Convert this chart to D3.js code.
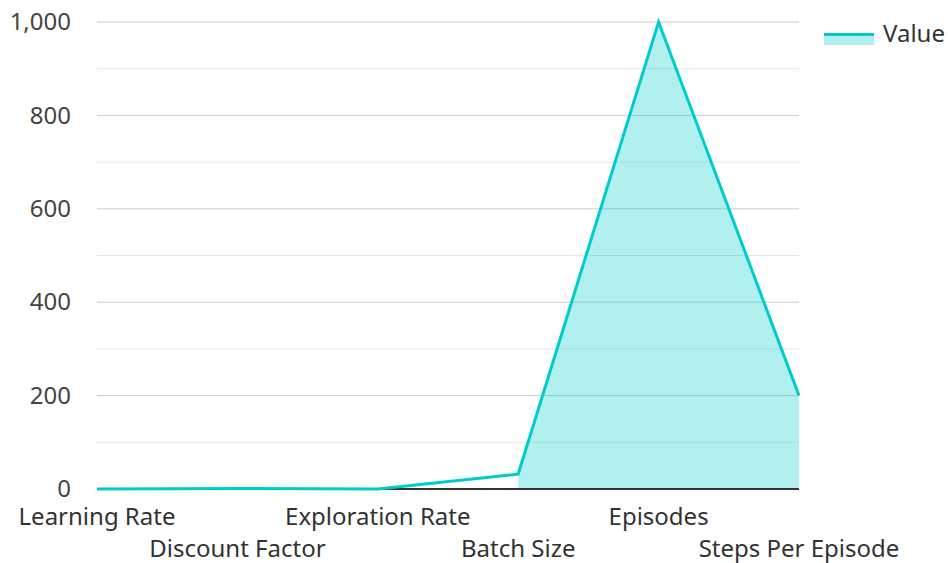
<!DOCTYPE html>
<html>
<head>
<meta charset="utf-8">
<script src="https://cdn.jsdelivr.net/npm/d3@7"></script>
<style>
  html, body { margin: 0; padding: 0; background: #fff; }
  svg { display: block; font-family: "Noto Sans", "Open Sans", sans-serif; }
</style>
</head>
<body>
<svg id="chart" width="948" height="563"></svg>
<script>
// Hyperparameter values
const categories = ["Learning Rate", "Discount Factor", "Exploration Rate", "Batch Size", "Episodes", "Steps Per Episode"];
const values = [0.001, 0.99, 0.1, 32, 1000, 200];
const yTicks = [0, 200, 400, 600, 800, 1000];
const yMinorTicks = [100, 300, 500, 700, 900];
const seriesName = "Value";

const svg = d3.select("#chart");
const margin = { left: 97, right: 149, top: 22, bottom: 74 };
const W = 948, H = 563;
const lineColor = "#00cccc";
const fontSize = 24;

const x = d3.scalePoint().domain(categories).range([margin.left, W - margin.right]);
const y = d3.scaleLinear().domain([0, 1000]).range([H - margin.bottom, margin.top]);

const data = categories.map((c, i) => ({ c, v: values[i] }));

// minor grid
svg.append("g").selectAll("line").data(yMinorTicks).join("line")
  .attr("x1", margin.left).attr("x2", W - margin.right)
  .attr("y1", d => y(d)).attr("y2", d => y(d))
  .attr("stroke", "#e6e6e6").attr("stroke-width", 1);

// major grid
svg.append("g").selectAll("line").data(yTicks.filter(d => d > 0)).join("line")
  .attr("x1", margin.left).attr("x2", W - margin.right)
  .attr("y1", d => y(d)).attr("y2", d => y(d))
  .attr("stroke", "#cccccc").attr("stroke-width", 1);

// filled area (only over whole-number values)
const area = d3.area()
  .defined(d => d.v >= 1)
  .x(d => x(d.c)).y0(y(0)).y1(d => y(d.v));
svg.append("path").datum(data)
  .attr("d", area)
  .attr("fill", lineColor).attr("fill-opacity", 0.3);

// y axis labels
const yAxis = d3.axisLeft(y).tickValues(yTicks).tickSize(0).tickPadding(26)
  .tickFormat(d3.format(","));
const gy = svg.append("g").attr("transform", `translate(${margin.left},0)`).call(yAxis);
gy.select(".domain").remove();
gy.selectAll("text").attr("font-size", fontSize).attr("fill", "#444").attr("font-family", "Noto Sans");

// x axis baseline
svg.append("line")
  .attr("x1", margin.left).attr("x2", W - margin.right)
  .attr("y1", y(0)).attr("y2", y(0))
  .attr("stroke", "#333").attr("stroke-width", 2);

// x labels, staggered in two rows
svg.append("g").selectAll("text").data(categories).join("text")
  .attr("x", d => x(d))
  .attr("y", (d, i) => y(0) + (i % 2 === 0 ? 36 : 68))
  .attr("text-anchor", "middle")
  .attr("font-size", fontSize).attr("fill", "#333")
  .text(d => d);

// line
const line = d3.line().x(d => x(d.c)).y(d => y(d.v));
svg.append("path").datum(data)
  .attr("d", line)
  .attr("fill", "none").attr("stroke", lineColor).attr("stroke-width", 3)
  .attr("stroke-linejoin", "miter");

// legend
const lg = svg.append("g").attr("transform", "translate(824,33)");
lg.append("rect").attr("x", 0).attr("y", 0).attr("width", 50).attr("height", 12)
  .attr("fill", lineColor).attr("fill-opacity", 0.3);
lg.append("line").attr("x1", 0).attr("x2", 50).attr("y1", 1.5).attr("y2", 1.5)
  .attr("stroke", lineColor).attr("stroke-width", 3);
lg.append("text").attr("x", 59).attr("y", 9)
  .attr("font-size", fontSize).attr("fill", "#333").text(seriesName);
</script>
</body>
</html>
